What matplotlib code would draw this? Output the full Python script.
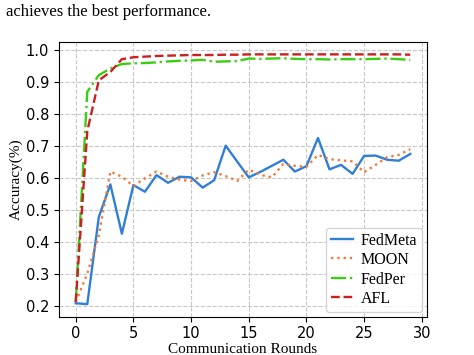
import matplotlib
matplotlib.use("Agg")
import matplotlib.pyplot as plt

rounds = list(range(30))

fedmeta = [0.208, 0.205, 0.477, 0.579, 0.425, 0.577, 0.556, 0.608, 0.584, 0.603,
           0.601, 0.569, 0.592, 0.700, 0.650, 0.601, 0.618, 0.637, 0.656, 0.619,
           0.636, 0.724, 0.626, 0.640, 0.612, 0.668, 0.669, 0.656, 0.653, 0.674]
moon = [0.212, 0.300, 0.420, 0.619, 0.603, 0.574, 0.598, 0.619, 0.603, 0.594,
        0.589, 0.607, 0.617, 0.605, 0.590, 0.625, 0.609, 0.601, 0.643, 0.637,
        0.634, 0.671, 0.658, 0.654, 0.651, 0.617, 0.640, 0.664, 0.671, 0.689]
fedper = [0.212, 0.868, 0.920, 0.941, 0.955, 0.957, 0.958, 0.960, 0.963, 0.965,
          0.966, 0.968, 0.962, 0.963, 0.964, 0.972, 0.971, 0.972, 0.973, 0.971,
          0.970, 0.970, 0.969, 0.970, 0.970, 0.970, 0.971, 0.972, 0.970, 0.968]
afl = [0.212, 0.745, 0.904, 0.930, 0.970, 0.976, 0.978, 0.980, 0.981, 0.982,
       0.983, 0.983, 0.983, 0.984, 0.984, 0.985, 0.985, 0.985, 0.985, 0.985,
       0.985, 0.985, 0.985, 0.985, 0.985, 0.985, 0.985, 0.985, 0.985, 0.984]

serif = ["Liberation Serif", "DejaVu Serif"]

fig = plt.figure(figsize=(4.74, 3.55), dpi=100)
ax = fig.add_axes([0.1245, 0.108, 0.7763, 0.774])

ax.plot(rounds, fedmeta, color="#2f7fd6", lw=1.7, ls="-", label="FedMeta")
ax.plot(rounds, moon, color="#f07a3a", lw=1.7, ls=":", label="MOON")
ax.plot(rounds, fedper, color="#3ccc14", lw=1.7, ls="-.", label="FedPer")
ax.plot(rounds, afl, color="#cc1f1f", lw=1.7, ls="--", label="AFL")

ax.set_xticks([0, 5, 10, 15, 20, 25, 30])
ax.set_yticks([0.2, 0.3, 0.4, 0.5, 0.6, 0.7, 0.8, 0.9, 1.0])
ax.tick_params(labelsize=10.5)
ax.grid(True, ls="--", color="#c8c8c8", lw=0.8)

ax.set_xlabel("Communication Rounds", family=serif, fontsize=11, labelpad=1)
ax.set_ylabel("Accuracy(%)", family=serif, fontsize=11, labelpad=2)

ax.legend(loc="lower right", prop={"family": serif, "size": 11.5},
          handlelength=1.4, handletextpad=0.5, borderpad=0.3,
          labelspacing=0.22, borderaxespad=0.3)

fig.text(0.012, 0.99, "achieves the best performance.", family=serif,
         fontsize=12, va="top", ha="left")

fig.savefig("out.png", dpi=100)
